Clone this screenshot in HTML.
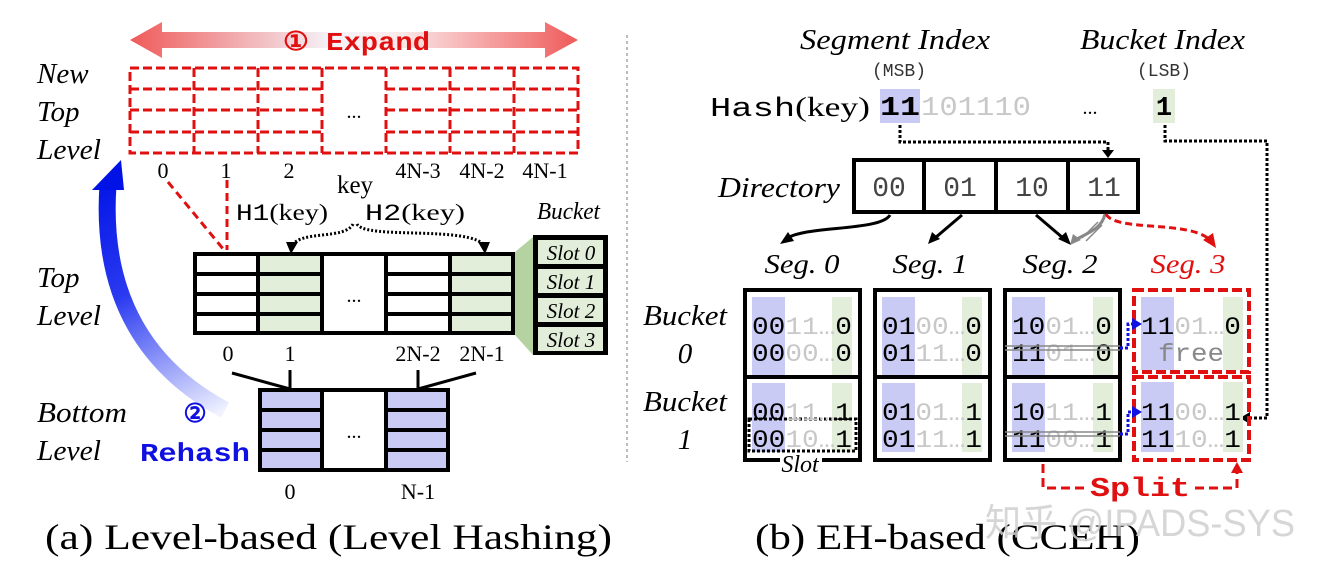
<!DOCTYPE html>
<html><head><meta charset="utf-8"><style>
html,body{margin:0;padding:0;background:#fff;}
svg{display:block;}
.it{font-family:"Liberation Serif",serif;font-style:italic;}
.sr{font-family:"Liberation Serif",serif;}
.mo{font-family:"Liberation Mono",monospace;}
</style></head><body>
<svg width="1330" height="579" viewBox="0 0 1330 579" xmlns="http://www.w3.org/2000/svg">
<defs>
<linearGradient id="rg" x1="0" x2="1" y1="0" y2="0">
<stop offset="0" stop-color="#ef5a5a"/><stop offset="0.45" stop-color="#f4f4fa"/><stop offset="0.6" stop-color="#fbeaea"/><stop offset="1" stop-color="#ef5a5a"/></linearGradient>
<linearGradient id="bg2" gradientUnits="userSpaceOnUse" x1="100" y1="170" x2="225" y2="410">
<stop offset="0" stop-color="#0012e6"/><stop offset="0.45" stop-color="#2a3af0"/><stop offset="1" stop-color="#f0f2ff"/></linearGradient>
</defs>

<polygon points="130,40 162,22 162,32 545,32 545,22 578,40 545,58 545,48 162,48 162,58" fill="url(#rg)"/>
<text x="283" y="50" class="mo" font-size="26" font-weight="bold" fill="#e01010" textLength="147" lengthAdjust="spacingAndGlyphs">① Expand</text>

<g stroke="#e01010" stroke-width="3" stroke-dasharray="9,4" fill="none">
<rect x="130" y="68" width="448" height="85"/>
<line x1="130" y1="89" x2="322" y2="89"/><line x1="130" y1="110" x2="322" y2="110"/><line x1="130" y1="132" x2="322" y2="132"/>
<line x1="386" y1="89" x2="578" y2="89"/><line x1="386" y1="110" x2="578" y2="110"/><line x1="386" y1="132" x2="578" y2="132"/>
<line x1="194" y1="68" x2="194" y2="153"/><line x1="258" y1="68" x2="258" y2="153"/><line x1="322" y1="68" x2="322" y2="153"/>
<line x1="386" y1="68" x2="386" y2="153"/><line x1="450" y1="68" x2="450" y2="153"/><line x1="514" y1="68" x2="514" y2="153"/>
</g>
<text x="354" y="118" class="sr" font-size="20" text-anchor="middle">...</text>
<g class="sr" font-size="22" text-anchor="middle">
<text x="163" y="178">0</text><text x="226" y="178">1</text><text x="289" y="178">2</text>
<text x="418" y="178">4N-3</text><text x="482" y="178">4N-2</text><text x="545" y="178">4N-1</text>
</g>
<g class="it" font-size="29">
<text x="37" y="83">New</text><text x="37" y="121">Top</text><text x="37" y="159" textLength="64" lengthAdjust="spacingAndGlyphs">Level</text>
<text x="37" y="287">Top</text><text x="37" y="325" textLength="64" lengthAdjust="spacingAndGlyphs">Level</text>
<text x="37" y="422" textLength="90" lengthAdjust="spacingAndGlyphs">Bottom</text><text x="37" y="460" textLength="64" lengthAdjust="spacingAndGlyphs">Level</text>
</g>

<g stroke="#e01010" stroke-width="3" stroke-dasharray="8,5" fill="none">
<line x1="168" y1="182" x2="224" y2="250"/><line x1="227" y1="180" x2="227" y2="250"/>
</g>

<text x="355" y="193" class="sr" font-size="25" text-anchor="middle">key</text>
<text x="236" y="220" font-size="23" textLength="92" lengthAdjust="spacingAndGlyphs"><tspan class="mo">H1</tspan><tspan class="sr">(key)</tspan></text>
<text x="365" y="220" font-size="23" textLength="100" lengthAdjust="spacingAndGlyphs"><tspan class="mo">H2</tspan><tspan class="sr">(key)</tspan></text>
<g stroke="#000" stroke-width="3" stroke-dasharray="2,2" fill="none">
<path d="M353,224 C345,240 300,230 292,246"/>
<path d="M357,224 C365,240 470,225 485,246"/>
</g>
<polygon points="286,242 298,242 291,254" fill="#000"/>
<polygon points="478,242 490,242 485,254" fill="#000"/>

<text x="537" y="219" class="it" font-size="24" textLength="63" lengthAdjust="spacingAndGlyphs">Bucket</text>
<polygon points="515,252 533,237 533,355 515,335" fill="#b5d3a0"/>
<rect x="533" y="235" width="75" height="120" fill="#000"/>
<g fill="#e2eed9">
<rect x="538" y="240" width="65" height="24"/><rect x="538" y="269" width="65" height="24"/>
<rect x="538" y="298" width="65" height="24"/><rect x="538" y="327" width="65" height="24"/>
</g>
<g class="it" font-size="21" text-anchor="middle">
<text x="571" y="260">Slot 0</text><text x="571" y="289">Slot 1</text><text x="571" y="318">Slot 2</text><text x="571" y="347">Slot 3</text>
</g>

<rect x="258" y="252" width="64" height="83" fill="#e2eed9"/>
<rect x="450" y="252" width="65" height="83" fill="#e2eed9"/>
<g stroke="#000" stroke-width="4" fill="none">
<rect x="195" y="254" width="318" height="79"/>
<line x1="195" y1="274" x2="322" y2="274"/><line x1="195" y1="294" x2="322" y2="294"/><line x1="195" y1="314" x2="322" y2="314"/>
<line x1="386" y1="274" x2="513" y2="274"/><line x1="386" y1="294" x2="513" y2="294"/><line x1="386" y1="314" x2="513" y2="314"/>
<line x1="258" y1="254" x2="258" y2="333"/><line x1="322" y1="254" x2="322" y2="333"/>
<line x1="386" y1="254" x2="386" y2="333"/><line x1="450" y1="254" x2="450" y2="333"/>
</g>
<text x="354" y="302" class="sr" font-size="20" text-anchor="middle">...</text>
<g class="sr" font-size="22" text-anchor="middle">
<text x="228" y="361">0</text><text x="290" y="361">1</text><text x="418" y="361">2N-2</text><text x="482" y="361">2N-1</text>
</g>
<g stroke="#000" stroke-width="3">
<line x1="232" y1="373" x2="290" y2="389"/><line x1="290" y1="370" x2="290" y2="389"/>
<line x1="418" y1="370" x2="418" y2="389"/><line x1="476" y1="373" x2="418" y2="389"/>
</g>

<rect x="258" y="388" width="64" height="84" fill="#c9cbf5"/>
<rect x="386" y="388" width="64" height="84" fill="#c9cbf5"/>
<g stroke="#000" stroke-width="4" fill="none">
<rect x="260" y="390" width="188" height="80"/>
<line x1="260" y1="410" x2="322" y2="410"/><line x1="260" y1="430" x2="322" y2="430"/><line x1="260" y1="450" x2="322" y2="450"/>
<line x1="386" y1="410" x2="448" y2="410"/><line x1="386" y1="430" x2="448" y2="430"/><line x1="386" y1="450" x2="448" y2="450"/>
<line x1="322" y1="390" x2="322" y2="470"/><line x1="386" y1="390" x2="386" y2="470"/>
</g>
<text x="354" y="438" class="sr" font-size="20" text-anchor="middle">...</text>
<g class="sr" font-size="22" text-anchor="middle"><text x="290" y="499">0</text><text x="418" y="499">N-1</text></g>

<path d="M225,410 C150,370 100,300 108,185" stroke="url(#bg2)" stroke-width="17" fill="none"/>
<polygon points="121,160 92,190 124,190" fill="#0012e6"/>
<text x="195" y="422" class="sr" font-size="26" font-weight="bold" fill="#1010e0" text-anchor="middle">②</text>
<text x="140" y="461" class="mo" font-size="26" font-weight="bold" fill="#1010e0" textLength="110" lengthAdjust="spacingAndGlyphs">Rehash</text>

<text x="45" y="549" class="sr" font-size="36" textLength="567" lengthAdjust="spacingAndGlyphs">(a) Level-based (Level Hashing)</text>

<line x1="627" y1="35" x2="627" y2="462" stroke="#bbb" stroke-width="2" stroke-dasharray="3,3"/>

<text x="800" y="49" class="it" font-size="28" textLength="190" lengthAdjust="spacingAndGlyphs">Segment Index</text>
<text x="899" y="76" class="mo" font-size="18" text-anchor="middle" fill="#333">(MSB)</text>
<text x="1080" y="49" class="it" font-size="28" textLength="165" lengthAdjust="spacingAndGlyphs">Bucket Index</text>
<text x="1164" y="76" class="mo" font-size="18" text-anchor="middle" fill="#333">(LSB)</text>
<text x="710" y="116" font-size="27" textLength="160" lengthAdjust="spacingAndGlyphs"><tspan class="mo">Hash</tspan><tspan class="sr">(key)</tspan></text>
<rect x="880" y="89" width="40" height="34" fill="#c9cbf5"/>
<rect x="1153" y="89" width="22" height="34" fill="#e2eed9"/>
<text x="880" y="115" class="mo" font-size="27" font-weight="bold" textLength="40" lengthAdjust="spacingAndGlyphs">11</text>
<text x="921" y="115" class="mo" font-size="27" fill="#c8c8c8" textLength="110" lengthAdjust="spacingAndGlyphs">101110</text>
<text x="1090" y="114" class="sr" font-size="20" text-anchor="middle">...</text>
<text x="1164" y="115" class="mo" font-size="27" font-weight="bold" text-anchor="middle">1</text>

<g stroke="#000" stroke-width="3" stroke-dasharray="3,2" fill="none">
<polyline points="900,125 900,142 1108,142 1108,152"/>
<polyline points="1165,125 1165,141 1267,141 1267,418 1248,418"/>
</g>
<polygon points="1102,150 1114,150 1108,158" fill="#000"/>
<polygon points="1240,418 1250,412 1250,424" fill="#000"/>

<text x="718" y="197" class="it" font-size="29" textLength="122" lengthAdjust="spacingAndGlyphs">Directory</text>
<g stroke="#000" stroke-width="4" fill="#fff">
<rect x="854" y="160" width="284" height="52"/>
<line x1="924" y1="160" x2="924" y2="212"/><line x1="996" y1="160" x2="996" y2="212"/><line x1="1068" y1="160" x2="1068" y2="212"/>
</g>
<g class="mo" font-size="28" fill="#444" text-anchor="middle">
<text x="889" y="196">00</text><text x="960" y="196">01</text><text x="1032" y="196">10</text><text x="1104" y="196">11</text>
</g>
<g stroke="#000" stroke-width="3" fill="none">
<path d="M890,215 C880,232 800,225 785,240"/>
<line x1="962" y1="215" x2="935" y2="238"/>
<line x1="1036" y1="215" x2="1063" y2="238"/>
</g>
<polygon points="780,244 788,232 794,241" fill="#000"/>
<polygon points="928,244 932,232 940,239" fill="#000"/>
<polygon points="1071,245 1058,239 1066,232" fill="#000"/>
<path d="M1105,214 C1102,228 1090,232 1075,240" stroke="#888" stroke-width="3" fill="none"/>
<polygon points="1070,245 1073,234 1081,240" fill="#888"/>
<line x1="1082" y1="238" x2="1098" y2="222" stroke="#888" stroke-width="1.5"/>
<line x1="1086" y1="241" x2="1102" y2="225" stroke="#888" stroke-width="1.5"/>
<path d="M1106,214 C1115,232 1190,220 1210,240" stroke="#e01010" stroke-width="3" stroke-dasharray="7,4" fill="none"/>
<polygon points="1216,248 1203,240 1213,233" fill="#e01010"/>

<g class="it" font-size="27" text-anchor="middle">
<text x="802" y="273" textLength="75" lengthAdjust="spacingAndGlyphs">Seg. 0</text><text x="930" y="273" textLength="75" lengthAdjust="spacingAndGlyphs">Seg. 1</text><text x="1060" y="273" textLength="75" lengthAdjust="spacingAndGlyphs">Seg. 2</text><text x="1188" y="273" fill="#e01010" textLength="75" lengthAdjust="spacingAndGlyphs">Seg. 3</text>
</g>
<g class="it" font-size="29" text-anchor="middle">
<text x="685" y="325" textLength="84" lengthAdjust="spacingAndGlyphs">Bucket</text><text x="685" y="363">0</text>
<text x="685" y="411" textLength="84" lengthAdjust="spacingAndGlyphs">Bucket</text><text x="685" y="449">1</text>
</g>

<g fill="#c9cbf5">
<rect x="752" y="297" width="33" height="155"/><rect x="882" y="297" width="33" height="155"/>
<rect x="1012" y="297" width="33" height="155"/><rect x="1141" y="297" width="33" height="155"/>
</g>
<g fill="#e2eed9">
<rect x="832" y="297" width="20" height="155"/><rect x="962" y="297" width="20" height="155"/>
<rect x="1093" y="297" width="20" height="155"/><rect x="1223" y="297" width="20" height="155"/>
</g>
<rect x="745" y="378" width="115" height="5" fill="#fff"/>
<rect x="875" y="378" width="115" height="5" fill="#fff"/>
<rect x="1005" y="378" width="115" height="5" fill="#fff"/>
<rect x="1134" y="370" width="115" height="12" fill="#fff"/>
<g stroke="#000" stroke-width="4" fill="none">
<rect x="745" y="290" width="115" height="170"/><line x1="745" y1="377" x2="860" y2="377"/>
<rect x="875" y="290" width="115" height="170"/><line x1="875" y1="377" x2="990" y2="377"/>
<rect x="1005" y="290" width="115" height="170"/><line x1="1005" y1="377" x2="1120" y2="377"/>
</g>
<g stroke="#e01010" stroke-width="4" stroke-dasharray="10,4" fill="none">
<rect x="1134" y="290" width="115" height="82"/>
<rect x="1134" y="377" width="115" height="83"/>
</g>
<rect x="780" y="455" width="42" height="10" fill="#fff"/>
<text x="800" y="472" class="it" font-size="24" text-anchor="middle">Slot</text>
<rect x="749" y="419" width="107" height="32" fill="none" stroke="#000" stroke-width="3" stroke-dasharray="3,2"/>

<g class="mo" font-size="25">
<text x="752" y="334" textLength="100" lengthAdjust="spacingAndGlyphs">00<tspan fill="#c8c8c8">11…</tspan>0</text>
<text x="752" y="361" textLength="100" lengthAdjust="spacingAndGlyphs">00<tspan fill="#c8c8c8">00…</tspan>0</text>
<text x="752" y="420" textLength="100" lengthAdjust="spacingAndGlyphs">00<tspan fill="#c8c8c8">11…</tspan>1</text>
<text x="752" y="447" textLength="100" lengthAdjust="spacingAndGlyphs">00<tspan fill="#c8c8c8">10…</tspan>1</text>
<text x="882" y="334" textLength="100" lengthAdjust="spacingAndGlyphs">01<tspan fill="#c8c8c8">00…</tspan>0</text>
<text x="882" y="361" textLength="100" lengthAdjust="spacingAndGlyphs">01<tspan fill="#c8c8c8">11…</tspan>0</text>
<text x="882" y="420" textLength="100" lengthAdjust="spacingAndGlyphs">01<tspan fill="#c8c8c8">01…</tspan>1</text>
<text x="882" y="447" textLength="100" lengthAdjust="spacingAndGlyphs">01<tspan fill="#c8c8c8">11…</tspan>1</text>
<text x="1012" y="334" textLength="100" lengthAdjust="spacingAndGlyphs">10<tspan fill="#c8c8c8">01…</tspan>0</text>
<text x="1012" y="361" textLength="100" lengthAdjust="spacingAndGlyphs">11<tspan fill="#c8c8c8">01…</tspan>0</text>
<text x="1012" y="420" textLength="100" lengthAdjust="spacingAndGlyphs">10<tspan fill="#c8c8c8">11…</tspan>1</text>
<text x="1012" y="447" textLength="100" lengthAdjust="spacingAndGlyphs">11<tspan fill="#c8c8c8">00…</tspan>1</text>
<text x="1141" y="334" textLength="100" lengthAdjust="spacingAndGlyphs">11<tspan fill="#c8c8c8">01…</tspan>0</text>
<text x="1158" y="361" fill="#888" textLength="66" lengthAdjust="spacingAndGlyphs">free</text>
<text x="1141" y="420" textLength="100" lengthAdjust="spacingAndGlyphs">11<tspan fill="#c8c8c8">00…</tspan>1</text>
<text x="1141" y="447" textLength="100" lengthAdjust="spacingAndGlyphs">11<tspan fill="#c8c8c8">10…</tspan>1</text>
</g>
<g stroke="#888" stroke-width="1.5">
<line x1="1005" y1="346" x2="1120" y2="346"/><line x1="1005" y1="350" x2="1120" y2="350"/>
<line x1="1005" y1="432" x2="1120" y2="432"/><line x1="1005" y1="436" x2="1120" y2="436"/>
</g>
<g stroke="#1010e0" stroke-width="3" stroke-dasharray="3,2" fill="none">
<polyline points="1120,348 1128,348 1128,324 1134,324"/>
<polyline points="1120,434 1128,434 1128,412 1134,412"/>
</g>
<polygon points="1142,324 1132,318 1132,330" fill="#1010e0"/>
<polygon points="1142,412 1132,406 1132,418" fill="#1010e0"/>

<polyline points="1043,464 1043,488 1085,488" stroke="#e01010" stroke-width="3" stroke-dasharray="9,5" fill="none"/>
<polyline points="1195,488 1237,488 1237,470" stroke="#e01010" stroke-width="3" stroke-dasharray="9,5" fill="none"/>
<polygon points="1237,462 1231,473 1243,473" fill="#e01010"/>
<text x="1090" y="496" class="mo" font-size="27" font-weight="bold" fill="#e01010" textLength="100" lengthAdjust="spacingAndGlyphs">Split</text>

<text x="755" y="549" class="sr" font-size="36" textLength="385" lengthAdjust="spacingAndGlyphs">(b) EH-based (CCEH)</text>
<text x="985" y="536" font-family="'Liberation Sans','Noto Sans CJK SC',sans-serif" font-size="38" fill="#cfcfcf" opacity="0.85" textLength="310" lengthAdjust="spacingAndGlyphs">知乎 @IPADS-SYS</text>
</svg>
</body></html>
